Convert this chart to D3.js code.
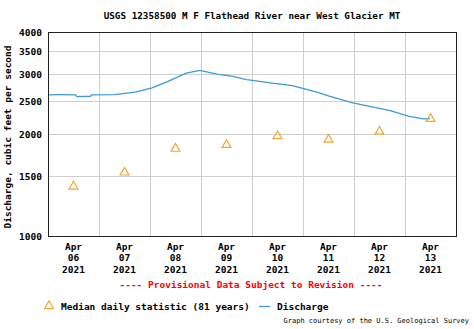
<!DOCTYPE html>
<html>
<head>
<meta charset="utf-8">
<script src="https://cdn.jsdelivr.net/npm/d3@7"></script>
<style>
  html, body { margin: 0; padding: 0; background: #fff; }
  svg { display: block; }
  text { font-family: "DejaVu Sans Mono", "Liberation Mono", monospace; font-weight: bold; }
</style>
</head>
<body>
<svg id="chart" width="474" height="329"></svg>
<script>
const title = "USGS 12358500 M F Flathead River near West Glacier MT";
const yLabel = "Discharge, cubic feet per second";
const yTicks = [1000, 1500, 2000, 2500, 3000, 3500, 4000];
const medianDates = ["2021-04-06T12:00Z", "2021-04-07T12:00Z", "2021-04-08T12:00Z", "2021-04-09T12:00Z",
                     "2021-04-10T12:00Z", "2021-04-11T12:00Z", "2021-04-12T12:00Z", "2021-04-13T12:00Z"];
const medianValues = [1400, 1540, 1810, 1857, 1973, 1927, 2032, 2218];
const dischargeTimes = [
  "2021-04-06T00:00Z", "2021-04-06T05:00Z", "2021-04-06T13:00Z", "2021-04-06T13:30Z", "2021-04-06T20:00Z",
  "2021-04-06T20:30Z", "2021-04-07T07:30Z", "2021-04-07T17:00Z", "2021-04-08T01:00Z", "2021-04-08T08:30Z",
  "2021-04-08T17:00Z", "2021-04-08T23:30Z", "2021-04-09T07:30Z", "2021-04-09T15:00Z", "2021-04-09T21:30Z",
  "2021-04-10T08:30Z", "2021-04-10T19:00Z", "2021-04-11T07:00Z", "2021-04-11T12:40Z", "2021-04-11T23:30Z",
  "2021-04-12T10:50Z", "2021-04-12T17:00Z", "2021-04-13T02:00Z", "2021-04-13T08:30Z", "2021-04-13T11:50Z"
];
const dischargeValues = [
  2610, 2612, 2610, 2580, 2585,
  2610, 2615, 2660, 2735, 2860,
  3025, 3083, 3006, 2958, 2894,
  2830, 2778, 2655, 2582, 2470,
  2387, 2343, 2254, 2218, 2220
];
const xDomain = ["2021-04-06T00:00Z", "2021-04-14T00:00Z"];
const provisional = "---- Provisional Data Subject to Revision ----";
const legendMedian = "Median daily statistic (81 years)";
const legendDischarge = "Discharge";
const credit = "Graph courtesy of the U.S. Geological Survey";

const svg = d3.select("#chart");
const M = { left: 48, right: 456, top: 32, bottom: 236 };
const blue = "#3d9ad6";
const orange = "#f0a830";

const x = d3.scaleUtc().domain(xDomain.map(d => new Date(d))).range([M.left, M.right]);
const y = d3.scaleLog().domain([1000, 4000]).range([M.bottom, M.top]);

// grid lines
const days = d3.utcDay.range(new Date(xDomain[0]), new Date(xDomain[1]));
svg.append("g").selectAll("line").data(days.slice(1)).join("line")
  .attr("x1", d => x(d)).attr("x2", d => x(d))
  .attr("y1", M.top).attr("y2", M.bottom)
  .attr("stroke", "#cfcfcf").attr("stroke-width", 1).attr("shape-rendering", "crispEdges");
svg.append("g").selectAll("line").data(yTicks.slice(1, -1)).join("line")
  .attr("x1", M.left).attr("x2", M.right)
  .attr("y1", d => y(d)).attr("y2", d => y(d))
  .attr("stroke", "#cfcfcf").attr("stroke-width", 1).attr("shape-rendering", "crispEdges");

// y axis labels
const yAxis = d3.axisLeft(y).tickValues(yTicks).tickFormat(d3.format("d")).tickSize(0).tickPadding(6);
const gy = svg.append("g").attr("transform", `translate(${M.left},0)`).call(yAxis);
gy.select(".domain").remove();
gy.selectAll("text").attr("font-size", 9.5).attr("fill", "#000")
  .style("font-family", "'DejaVu Sans Mono', monospace").style("font-weight", "bold");

// x axis labels (3 lines)
const noon = days.map(d => d3.utcHour.offset(d, 12));
const gx = svg.append("g");
const fmtM = d3.utcFormat("%b"), fmtD = d3.utcFormat("%d"), fmtY = d3.utcFormat("%Y");
noon.forEach(d => {
  const t = gx.append("text").attr("x", x(d)).attr("text-anchor", "middle").attr("font-size", 9.5).attr("fill", "#000");
  t.append("tspan").attr("x", x(d)).attr("y", 250).text(fmtM(d));
  t.append("tspan").attr("x", x(d)).attr("y", 261).text(fmtD(d));
  t.append("tspan").attr("x", x(d)).attr("y", 272.5).text(fmtY(d));
});

// discharge line
const line = d3.line().x((d, i) => x(new Date(dischargeTimes[i]))).y(d => y(d)).curve(d3.curveLinear);
svg.append("path").datum(dischargeValues).attr("d", line)
  .attr("fill", "none").attr("stroke", blue).attr("stroke-width", 1.3);

// median triangles
const tri = d3.symbol().type(d3.symbolTriangle).size(34);
svg.append("g").selectAll("path").data(medianValues).join("path")
  .attr("d", tri)
  .attr("transform", (d, i) => `translate(${x(new Date(medianDates[i]))},${y(d)})`)
  .attr("fill", "none").attr("stroke", orange).attr("stroke-width", 1.2);

// frame
svg.append("rect").attr("x", M.left).attr("y", M.top)
  .attr("width", M.right - M.left).attr("height", M.bottom - M.top)
  .attr("fill", "none").attr("stroke", "#222").attr("stroke-width", 1).attr("shape-rendering", "crispEdges");

// title
svg.append("text").attr("x", 252).attr("y", 19).attr("text-anchor", "middle")
  .attr("font-size", 9.3).attr("fill", "#000").text(title);

// y label
svg.append("text").attr("transform", "translate(11,137) rotate(-90)").attr("text-anchor", "middle")
  .attr("font-size", 9.5).attr("fill", "#000").text(yLabel);

// provisional
svg.append("text").attr("x", 251).attr("y", 287.5).attr("text-anchor", "middle")
  .attr("font-size", 9.5).attr("fill", "#ff0000").text(provisional);

// legend
const lg = svg.append("g");
lg.append("path").attr("d", tri).attr("transform", "translate(49,306)")
  .attr("fill", "none").attr("stroke", orange).attr("stroke-width", 1.2);
lg.append("text").attr("x", 61).attr("y", 310).attr("font-size", 9.5).attr("fill", "#000").text(legendMedian);
lg.append("line").attr("x1", 259).attr("x2", 270).attr("y1", 306.5).attr("y2", 306.5)
  .attr("stroke", blue).attr("stroke-width", 1.3);
lg.append("text").attr("x", 277).attr("y", 310).attr("font-size", 9.5).attr("fill", "#000").text(legendDischarge);

// credit
svg.append("text").attr("x", 469).attr("y", 323).attr("text-anchor", "end")
  .attr("font-size", 7).style("font-weight", "normal").attr("fill", "#000").text(credit);
</script>
</body>
</html>
